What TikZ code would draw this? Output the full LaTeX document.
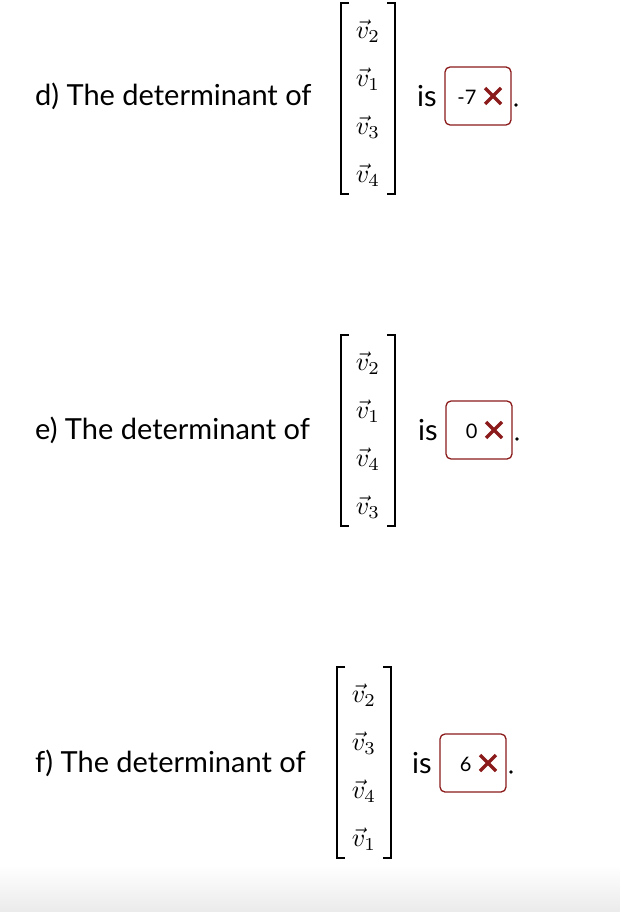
\documentclass[tikz,border=0pt]{standalone}
\usepackage{fontspec}
\setmainfont{Lato}
\usepackage{amsmath}
\usepackage{graphicx}
\definecolor{wrong}{HTML}{8B1A1A}
\begin{document}
\begin{tikzpicture}[x=1pt,y=-1pt,
  lbl/.style={font=\fontsize{29}{32}\selectfont, anchor=west, inner sep=0},
  vec/.style={inner sep=0},
  ansbox/.style={draw=wrong, line width=1.3pt, rounded corners=5pt, minimum width=66pt, minimum height=58pt, inner sep=0},
  brk/.style={line width=2pt}]
\useasboundingbox (0,0) rectangle (620,912);
\shade[top color=white, bottom color=black!8] (0,865) rectangle (620,912);
\newcommand{\panel}[7]{%
  \node[lbl] (#1t) at (35,#2) {#1) The determinant of};
  \draw[brk] (#3+8,#4) -- (#3,#4) -- (#3,#4+191) -- (#3+8,#4+191);
  \draw[brk] (#3+46,#4) -- (#3+54,#4) -- (#3+54,#4+191) -- (#3+46,#4+191);
  \foreach \v [count=\i] in {#5} {
    \node[vec] at (#3+27,#4+2+\i*48-22) {\scalebox{2.6}{$\vec v_{\v}$}};
  }
  \node[lbl] (#1is) at (#6-28,#2) {is};
  \node[ansbox] (#1b) at (#6+33,#2) {};
  \node[font=\fontsize{20}{22}\selectfont, anchor=east] at (#6+35,#2+1) {#7};
  \draw[wrong, line width=3.4pt] (#6+40,#2-8) -- (#6+56,#2+8) (#6+40,#2+8) -- (#6+56,#2-8);
  \fill (#6+71,#2+9) circle (1.8pt);
}
\panel{d}{96}{341}{3}{2,1,3,4}{445}{-7}
\panel{e}{430}{341}{335}{2,1,4,3}{446}{0}
\panel{f}{763}{337}{667}{2,3,4,1}{440}{6}
\end{tikzpicture}
\end{document}
